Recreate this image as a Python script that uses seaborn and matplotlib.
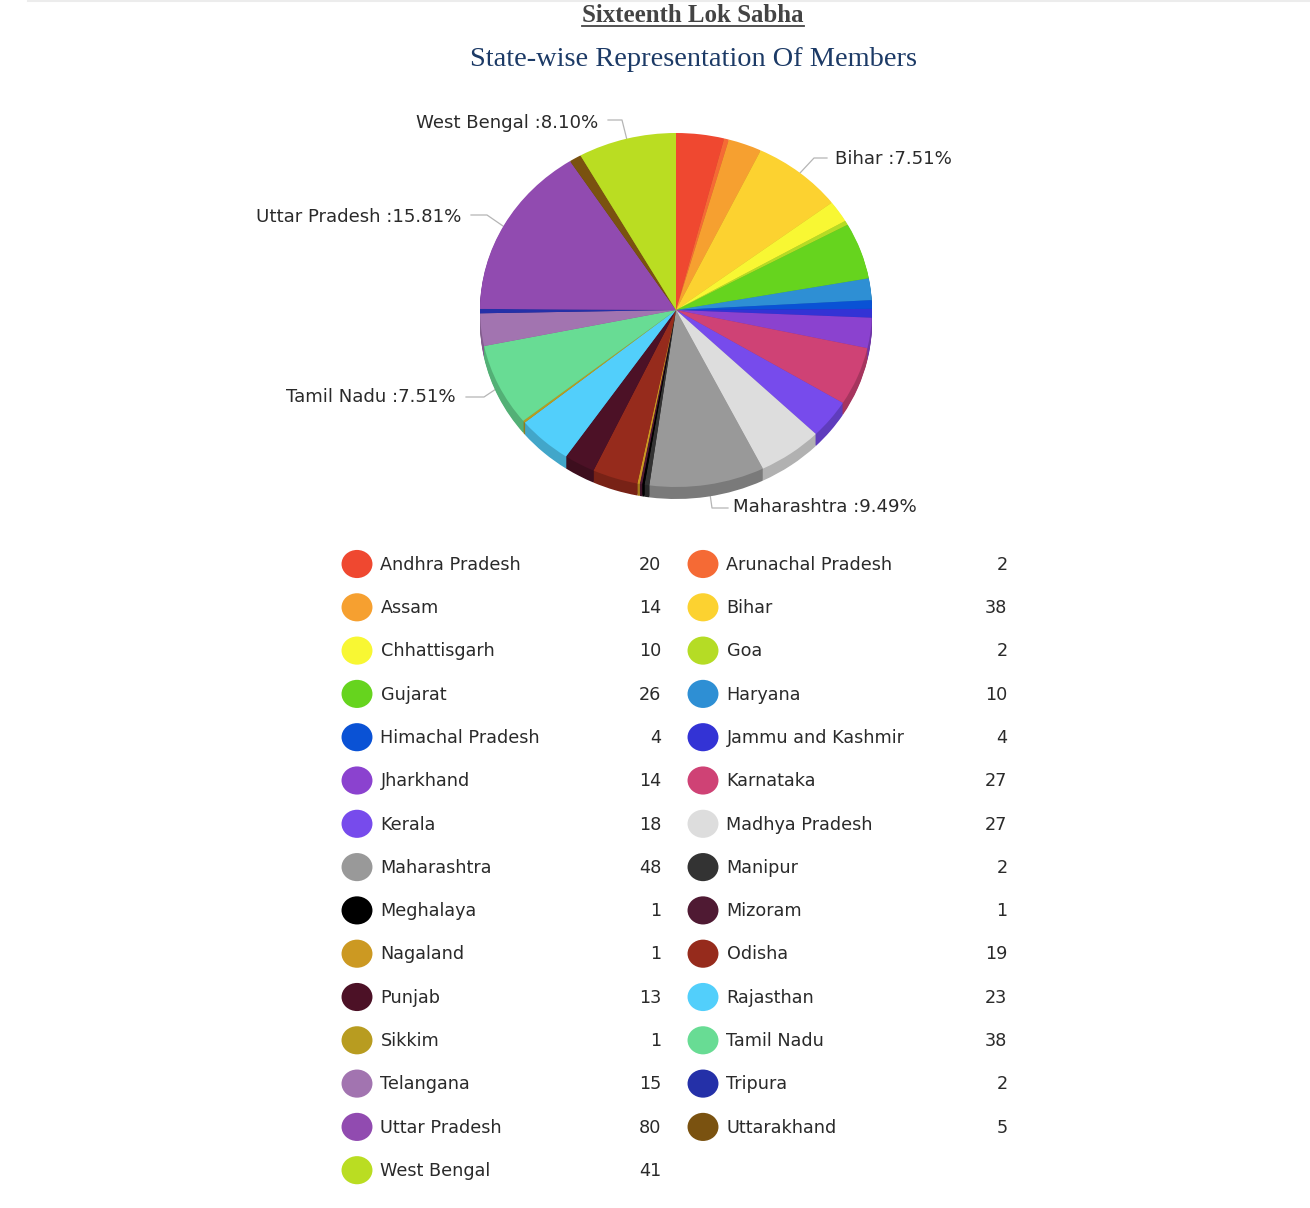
# State-wise seats of the Sixteenth Lok Sabha: tilted pie plus two column legend

import matplotlib
matplotlib.use("Agg")
import matplotlib.pyplot as plt
from matplotlib.markers import MarkerStyle
from matplotlib.transforms import Affine2D
import seaborn as sns
import pandas as pd
import numpy as np

states = ["Andhra Pradesh", "Arunachal Pradesh", "Assam", "Bihar", "Chhattisgarh", "Goa",
          "Gujarat", "Haryana", "Himachal Pradesh", "Jammu and Kashmir", "Jharkhand",
          "Karnataka", "Kerala", "Madhya Pradesh", "Maharashtra", "Manipur", "Meghalaya",
          "Mizoram", "Nagaland", "Odisha", "Punjab", "Rajasthan", "Sikkim", "Tamil Nadu",
          "Telangana", "Tripura", "Uttar Pradesh", "Uttarakhand", "West Bengal"]
seats = [20, 2, 14, 38, 10, 2, 26, 10, 4, 4, 14, 27, 18, 27, 48, 2, 1, 1, 1, 19, 13, 23,
         1, 38, 15, 2, 80, 5, 41]
colors = ["#EF4830", "#F56A35", "#F6A030", "#FCD230", "#F8F733", "#B5DC25", "#66D41E",
          "#2E8FD4", "#0A52D5", "#3333D5", "#8B42CF", "#CF4275", "#774BEC", "#DDDDDD",
          "#999999", "#333333", "#000000", "#4F1A33", "#CC9922", "#962B1C", "#4C1126",
          "#52CFFB", "#B89C20", "#68DC94", "#A274B0", "#2430A8", "#914BB0", "#7A5210",
          "#BADD22"]
callout_states = ["West Bengal", "Uttar Pradesh", "Tamil Nadu", "Maharashtra", "Bihar"]

W, H = 1310, 1208
fig = plt.figure(figsize=(W / 100, H / 100), dpi=100, facecolor="white")

# pixel space overlay for text, callouts and the legend
px = fig.add_axes([0, 0, 1, 1])
px.set_xlim(0, W)
px.set_ylim(H, 0)
px.axis("off")

sans = "DejaVu Sans"
serif = "Liberation Serif"
text_col = "#2a2a2a"
font_size = 12.7
callout_size = 13.1

px.plot([28, W], [0.5, 0.5], color="#ececec", lw=1.5, clip_on=False)

t1 = px.text(693, 16, "Sixteenth Lok Sabha", family=serif, fontsize=17.9, weight="bold",
             color="#444444", ha="center", va="center")
fig.canvas.draw()
ext = t1.get_window_extent()
px.plot([ext.x0, ext.x1], [26, 26], color="#444444", lw=1.3)
px.text(693, 60, "State-wise Representation Of Members", family=serif, fontsize=20.4,
        color="#1c3a66", ha="center", va="center")

# pie: radius 196 px across, 177 px down, with 12 px of side wall
cx, cy, rx, ry, depth = 676, 310, 196, 177, 12
pie_ax = fig.add_axes([(cx - rx) / W, 1 - (cy + ry + depth) / H, 2 * rx / W, (2 * ry + depth) / H])
pie_ax.patch.set_alpha(0)
side_colors = [tuple(c * 0.8 for c in col) for col in sns.color_palette(colors)]
for off in range(depth, 0, -1):
    pie_ax.pie(seats, colors=side_colors, startangle=90, counterclock=False,
               center=(0, -off / ry), wedgeprops={"linewidth": 0.3, "edgecolor": "none"})
pie_ax.pie(seats, colors=colors, startangle=90, counterclock=False,
           wedgeprops={"linewidth": 0})
pie_ax.set_aspect("auto")
pie_ax.set_xlim(-1, 1)
pie_ax.set_ylim(-1 - depth / ry, 1)

# callouts with share of total
total = sum(seats)
callout_text = {"West Bengal": (598, 122.5, "right"), "Uttar Pradesh": (461, 217.5, "right"),
                "Tamil Nadu": (456, 397.5, "right"), "Maharashtra": (733, 507.5, "left"),
                "Bihar": (835, 159.5, "left")}
callout_line = {"West Bengal": ([608, 622, 627], [120, 120, 140]),
                "Uttar Pradesh": ([471, 487, 503], [215, 215, 226]),
                "Tamil Nadu": ([466, 484, 499], [397, 397, 387]),
                "Maharashtra": ([709, 712, 728], [487, 508, 508]),
                "Bihar": ([800, 814, 827], [173, 158, 158])}
for name in callout_states:
    share = seats[states.index(name)] / total * 100
    x, y, ha = callout_text[name]
    px.text(x, y, f"{name} :{share:.2f}%", family=sans, fontsize=callout_size, color=text_col,
            ha=ha, va="center")
    lx, ly = callout_line[name]
    px.plot(lx, ly, color="#b5b5b5", lw=0.9)

# legend: two columns filled row by row
df = pd.DataFrame({"state": states, "seats": seats})
df["col"] = df.index % 2
df["row"] = df.index // 2
df["x"] = df["col"].map({0: 357, 1: 703})
df["y"] = 564 + df["row"] * 43.3

dot = MarkerStyle("o", transform=Affine2D().scale(1.1, 1.0))
sns.scatterplot(data=df, x="x", y="y", hue="state", hue_order=states, palette=colors,
                s=410, marker=dot, linewidth=0, legend=False, ax=px, clip_on=False)
px.set_xlim(0, W)
px.set_ylim(H, 0)
px.set_xlabel("")
px.set_ylabel("")

for _, r in df.iterrows():
    px.text(r["x"] + 23.5, r["y"] + 0.7, r["state"], family=sans, fontsize=font_size,
            color=text_col, ha="left", va="center")
    px.text(r["x"] + 304.5, r["y"] + 0.7, str(r["seats"]), family=sans, fontsize=font_size,
            color=text_col, ha="right", va="center")

fig.savefig("out.png", dpi=100)
